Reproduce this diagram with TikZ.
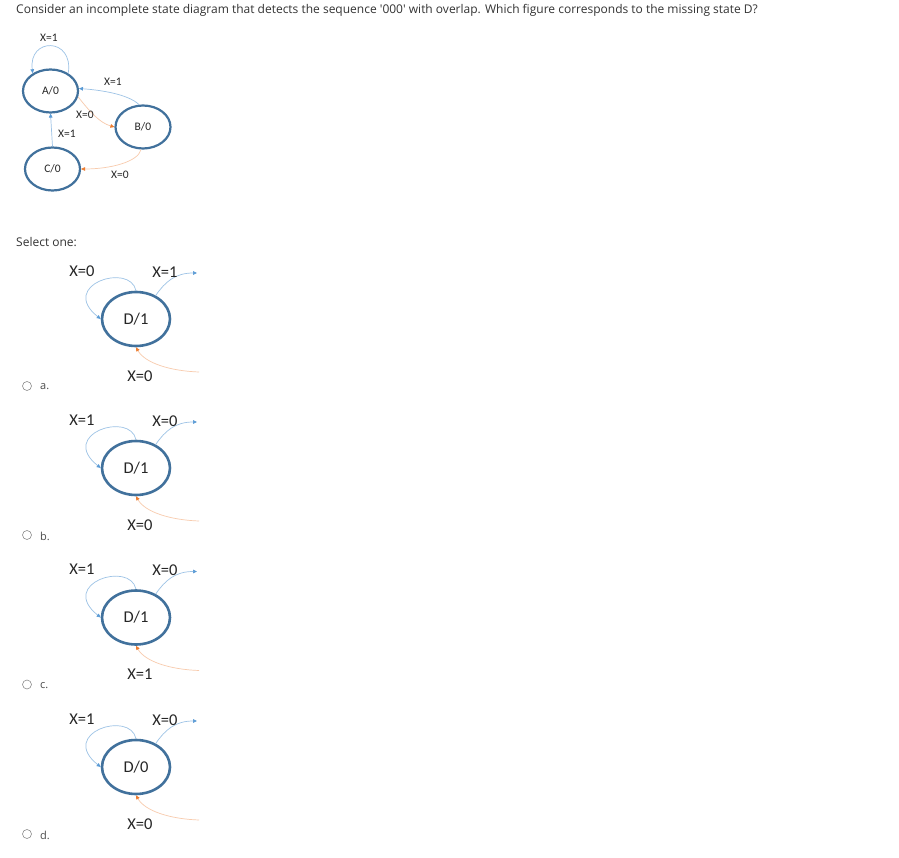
\documentclass[tikz,border=0pt]{standalone}
\usepackage{fontspec}
\setmainfont{Open Sans}[Ligatures=TeXOff]
\newfontfamily\calfont{Carlito}
\usetikzlibrary{arrows.meta,shapes.geometric}
\definecolor{stroke}{HTML}{41719C}
\definecolor{bluel}{HTML}{9DC3E6}
\definecolor{blueh}{HTML}{5B9BD5}
\definecolor{orangel}{HTML}{F8CBAD}
\definecolor{orangeh}{HTML}{ED7D31}
\definecolor{txt}{HTML}{333333}
\tikzset{
  state/.style={ellipse, draw=stroke, line width=2.2pt, minimum width=55pt, minimum height=43pt, inner sep=0pt, font=\calfont\fontsize{11.5}{12}\selectfont, text=black!85},
  dstate/.style={ellipse, draw=stroke, line width=2.6pt, minimum width=68pt, minimum height=54pt, inner sep=0pt, font=\calfont\fontsize{16.5}{18}\selectfont, text=black!85},
  bluearr/.style={draw=bluel, line width=0.7pt, -{Triangle[length=4pt,width=3.6pt,color=blueh]}},
  orangearr/.style={draw=orangel, line width=0.7pt, -{Triangle[length=4pt,width=3.6pt,color=orangeh]}},
  slab/.style={font=\calfont\fontsize{11.5}{12}\selectfont, text=black!85, inner sep=0pt},
  dlab/.style={font=\calfont\fontsize{16.5}{18}\selectfont, text=black!85, inner sep=0pt},
  radio/.style={circle, draw=black!45, line width=0.6pt, minimum size=9pt, inner sep=0pt},
  letter/.style={font=\fontsize{11}{12}\selectfont, text=black!70, inner sep=0pt, anchor=west},
  body/.style={font=\fontsize{12}{14}\selectfont, text=txt, inner sep=0pt, anchor=west}
}
\newcommand\optblock[6]{%
\begin{scope}[yshift=-#1pt]
  \node[dstate] (D#2) at (136,319) {#3};
  \coordinate (out#2) at (197,273);
  \coordinate (in#2) at (199,372);
  \draw[bluearr] (D#2.north) .. controls (130,262) and (58,285) .. (D#2.west);
  \draw[bluearr] (D#2.50) .. controls (165,282) and (175,273) .. (out#2);
  \draw[orangearr] (in#2) .. controls (170,371) and (145,363) .. (D#2.south);
  \node[dlab] (loop#2) at (82,271) {#4};
  \node[dlab] (outl#2) at (165,272) {#5};
  \node[dlab] (inl#2) at (140,376) {#6};
  \node[radio] (r#2) at (27,386) {};
  \node[letter] (l#2) at (40,387) {#2.};
\end{scope}}
\begin{document}
\begin{tikzpicture}[x=1pt,y=-1pt]
\useasboundingbox[fill=white] (0,0) rectangle (899,858);
\node[body] (title) at (16,10) {Consider an incomplete state diagram that detects the sequence '000' with overlap. Which figure corresponds to the missing state D?};
% top diagram
\node[state] (A) at (50.5,91) {A/0};
\node[state] (B) at (143,127) {B/0};
\node[state] (C) at (52.5,169) {C/0};
\draw[bluearr] (A.45) .. controls (74,37) and (28,37) .. (A.135);
\draw[bluearr] (B.100) .. controls (128,94) and (100,90) .. (A.5);
\draw[orangearr] (A.-12) .. controls (90,112) and (100,123) .. (B.west);
\draw[bluearr] (C.north) -- (A.south);
\draw[orangearr] (B.-95) .. controls (138,162) and (110,169) .. (C.east);
\node[slab] (la) at (49,38) {X=1};
\node[slab] (lba) at (113,82) {X=1};
\node[slab] (lab) at (85,115) {X=0};
\node[slab] (lca) at (67,134) {X=1};
\node[slab] (lbc) at (120,175) {X=0};
\node[body] (sel) at (16,242) {Select one:};
\optblock{0}{a}{D/1}{X=0}{X=1}{X=0}
\optblock{149}{b}{D/1}{X=1}{X=0}{X=0}
\optblock{298.5}{c}{D/1}{X=1}{X=0}{X=1}
\optblock{448}{d}{D/0}{X=1}{X=0}{X=0}
\end{tikzpicture}
\end{document}
